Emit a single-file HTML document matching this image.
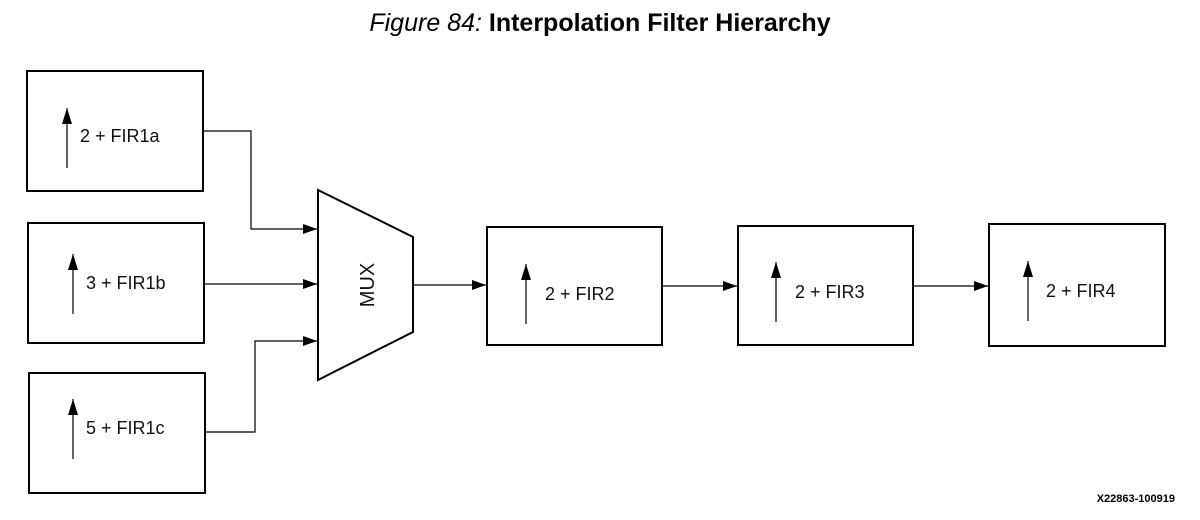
<!DOCTYPE html>
<html><head><style>
body{margin:0;background:#fff;width:1200px;height:515px;overflow:hidden}
</style></head><body>
<svg width="1200" height="515" xmlns="http://www.w3.org/2000/svg" font-family="Liberation Sans, sans-serif">
<defs><marker id="a" markerWidth="14" markerHeight="10" refX="14" refY="5" orient="auto" markerUnits="userSpaceOnUse"><path d="M0,0 L14,5 L0,10 z" fill="#000"/></marker>
<marker id="u" markerWidth="10" markerHeight="16" refX="5" refY="0" orient="0" markerUnits="userSpaceOnUse"><path d="M0,16 L5,0 L10,16 z" fill="#000"/></marker></defs>
<text x="600" y="31" text-anchor="middle" font-size="25"><tspan font-style="italic">Figure 84:</tspan> <tspan font-weight="bold">Interpolation Filter Hierarchy</tspan></text>
<g fill="none" stroke="#000" stroke-width="2">
<rect x="27" y="71" width="176" height="120"/>
<rect x="28" y="223" width="176" height="120"/>
<rect x="29" y="373" width="176" height="120"/>
<rect x="487" y="227" width="175" height="118"/>
<rect x="738" y="226" width="175" height="119"/>
<rect x="989" y="224" width="176" height="122"/>
<path d="M318,190 L413,237 L413,332 L318,380 Z"/>
</g>
<g fill="none" stroke="#000" stroke-width="1.2">
<path d="M203,131 H251 V229 H317" marker-end="url(#a)"/>
<path d="M204,284 H317" marker-end="url(#a)"/>
<path d="M205,432 H255 V341 H317" marker-end="url(#a)"/>
<path d="M413,285 H486" marker-end="url(#a)"/>
<path d="M662,286 H737" marker-end="url(#a)"/>
<path d="M913,286 H988" marker-end="url(#a)"/>
<path d="M67,168 V108" marker-end="url(#u)"/>
<path d="M73,314 V254" marker-end="url(#u)"/>
<path d="M73,459 V399" marker-end="url(#u)"/>
<path d="M526,324 V264" marker-end="url(#u)"/>
<path d="M776,322 V262" marker-end="url(#u)"/>
<path d="M1028,321 V261" marker-end="url(#u)"/>
</g>
<g font-size="18" fill="#111">
<text x="80" y="142">2 + FIR1a</text>
<text x="86" y="289">3 + FIR1b</text>
<text x="86" y="434">5 + FIR1c</text>
<text x="545" y="300">2 + FIR2</text>
<text x="795" y="298">2 + FIR3</text>
<text x="1046" y="297">2 + FIR4</text>
<text transform="translate(374,285) rotate(-90)" text-anchor="middle" font-size="20">MUX</text>
</g>
<text x="1175" y="502" text-anchor="end" font-size="11" font-weight="bold">X22863-100919</text>
</svg>
</body></html>
